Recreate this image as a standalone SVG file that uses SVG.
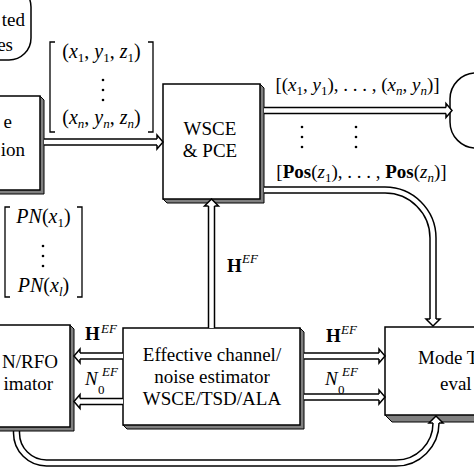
<svg xmlns="http://www.w3.org/2000/svg" width="474" height="474" viewBox="0 0 474 474">
<style>
.t{font-family:"Liberation Serif","DejaVu Serif",serif;font-size:19px;fill:#000}
.m{font-size:20px}
.i{font-style:italic}
.b{font-weight:bold}
.s{font-size:13px}
.box{fill:#fff;stroke:#000;stroke-width:1.5}
.sh{fill:#808080;stroke:#000;stroke-width:1;stroke-linejoin:round}
.co{fill:none;stroke:#000;stroke-width:7.5}
.ci{fill:none;stroke:#fff;stroke-width:4.5}
.hd{fill:#fff;stroke:#000;stroke-width:1.5;stroke-linejoin:miter}
.br{fill:none;stroke:#000;stroke-width:1.3}
</style>
<rect width="474" height="474" fill="#fff"/>

<g id="node-top-left">
<rect x="-60" y="-15" width="91" height="75" rx="22" class="box"/>
<text x="25" y="26" text-anchor="end" class="t">ted</text>
<text x="13" y="51" text-anchor="end" class="t">es</text>
</g>

<g id="node-left-mid">
<path d="M40 96 L44 100 L44 194 L-6 194 L-10 190 Z" class="sh"/>
<rect x="-10" y="96" width="50" height="94" class="box"/>
<text x="12" y="128" text-anchor="end" class="t">e</text>
<text x="25" y="156" text-anchor="end" class="t">ion</text>
</g>

<g id="node-wsce">
<path d="M260 84 L264 88 L264 203 L167 203 L163 199 Z" class="sh"/>
<rect x="163" y="84" width="97" height="115" class="box"/>
<text x="210" y="135" text-anchor="middle" class="t">WSCE</text>
<text x="210" y="157" text-anchor="middle" class="t">&amp; PCE</text>
</g>

<g id="node-right-top">
<rect x="450" y="73" width="80" height="75" rx="26" class="box"/>
</g>

<g id="node-pn-rfo">
<path d="M70 325 L74 329 L74 431 L-6 431 L-10 427 Z" class="sh"/>
<rect x="-10" y="325" width="80" height="102" class="box"/>
<text x="58" y="368" text-anchor="end" class="t">N/RFO</text>
<text x="53" y="390" text-anchor="end" class="t">imator</text>
</g>

<g id="node-effective">
<path d="M300 328 L304 332 L304 429 L127 429 L123 425 Z" class="sh"/>
<rect x="123" y="328" width="177" height="97" class="box"/>
<text x="212" y="361" text-anchor="middle" class="t">Effective channel/</text>
<text x="212" y="383" text-anchor="middle" class="t">noise estimator</text>
<text x="212" y="405" text-anchor="middle" class="t">WSCE/TSD/ALA</text>
</g>

<g id="node-mode">
<path d="M505 327 L512 334 L512 422 L392 422 L385 415 Z" class="sh"/>
<rect x="385" y="327" width="120" height="88" class="box"/>
<text x="418" y="364" class="t">Mode T</text>
<text x="440" y="390" class="t">eval</text>
</g>

<g id="labels">
<path d="M55 42 H50 V132 H55 M148 42 H153 V132 H148" class="br"/>
<text x="101.5" y="58" text-anchor="middle" class="t m">(<tspan class="i">x</tspan><tspan class="s" dy="4">1</tspan><tspan dy="-4">, </tspan><tspan class="i">y</tspan><tspan class="s" dy="4">1</tspan><tspan dy="-4">, </tspan><tspan class="i">z</tspan><tspan class="s" dy="4">1</tspan><tspan dy="-4">)</tspan></text>
<circle cx="103" cy="80" r="1.3"/><circle cx="103" cy="90" r="1.3"/><circle cx="103" cy="100" r="1.3"/>
<text x="101.5" y="124" text-anchor="middle" class="t m">(<tspan class="i">x</tspan><tspan class="s i" dy="4">n</tspan><tspan dy="-4">, </tspan><tspan class="i">y</tspan><tspan class="s i" dy="4">n</tspan><tspan dy="-4">, </tspan><tspan class="i">z</tspan><tspan class="s i" dy="4">n</tspan><tspan dy="-4">)</tspan></text>

<path d="M10 207 H5 V297 H10 M77 207 H82 V297 H77" class="br"/>
<text x="43.5" y="223" text-anchor="middle" class="t m"><tspan class="i">PN</tspan>(<tspan class="i">x</tspan><tspan class="s" dy="4">1</tspan><tspan dy="-4">)</tspan></text>
<circle cx="43" cy="246" r="1.3"/><circle cx="43" cy="256" r="1.3"/><circle cx="43" cy="266" r="1.3"/>
<text x="43.5" y="292" text-anchor="middle" class="t m"><tspan class="i">PN</tspan>(<tspan class="i">x</tspan><tspan class="s i" dy="4">l</tspan><tspan dy="-4">)</tspan></text>

<text x="357.5" y="91" text-anchor="middle" class="t">[(<tspan class="i">x</tspan><tspan class="s" dy="4">1</tspan><tspan dy="-4">, </tspan><tspan class="i">y</tspan><tspan class="s" dy="4">1</tspan><tspan dy="-4">), . . . , (</tspan><tspan class="i">x</tspan><tspan class="s i" dy="4">n</tspan><tspan dy="-4">, </tspan><tspan class="i">y</tspan><tspan class="s i" dy="4">n</tspan><tspan dy="-4">)]</tspan></text>
<circle cx="302" cy="127" r="1.3"/><circle cx="302" cy="137" r="1.3"/><circle cx="302" cy="147" r="1.3"/>
<circle cx="356" cy="127" r="1.3"/><circle cx="356" cy="137" r="1.3"/><circle cx="356" cy="147" r="1.3"/>
<text x="361.5" y="178" text-anchor="middle" class="t">[<tspan class="b">Pos</tspan>(<tspan class="i">z</tspan><tspan class="s" dy="4">1</tspan><tspan dy="-4">), . . . , </tspan><tspan class="b">Pos</tspan>(<tspan class="i">z</tspan><tspan class="s i" dy="4">n</tspan><tspan dy="-4">)]</tspan></text>

<text class="t"><tspan class="b" x="227" y="272">H</tspan><tspan class="s i" x="242" y="263">EF</tspan></text>
<text class="t"><tspan class="b" x="85" y="340">H</tspan><tspan class="s i" x="101" y="333">EF</tspan></text>
<text class="t"><tspan class="i" x="85" y="385">N</tspan><tspan class="s" x="98" y="394">0</tspan><tspan class="s i" x="102" y="376">EF</tspan></text>
<text class="t"><tspan class="b" x="326" y="342">H</tspan><tspan class="s i" x="341" y="334">EF</tspan></text>
<text class="t"><tspan class="i" x="325" y="385">N</tspan><tspan class="s" x="338" y="394">0</tspan><tspan class="s i" x="342" y="376">EF</tspan></text>
</g>

<g id="connectors">
<path d="M44 142 H157" class="co"/><path d="M44 142 H157.5" class="ci"/>
<path d="M157 139 L157 135 L163 142 L157 149 L157 145" class="hd"/>

<path d="M264 110.5 H446" class="co"/><path d="M264 110.5 H446.5" class="ci"/>
<path d="M446 107.5 L446 103.5 L452 110.5 L446 117.5 L446 113.5" class="hd"/>

<path d="M264 190 H385 A48 48 0 0 1 433 238 V319" class="co"/><path d="M264 190 H385 A48 48 0 0 1 433 238 V319.5" class="ci"/>
<path d="M430 319 L426 319 L433 326 L440 319 L436 319" class="hd"/>

<path d="M211.5 328 V206" class="co"/><path d="M211.5 328 V205.5" class="ci"/>
<path d="M208.5 206 L204.5 206 L211.5 199 L218.5 206 L214.5 206" class="hd"/>

<path d="M123 356 H80" class="co"/><path d="M123 356 H79.5" class="ci"/>
<path d="M80 353 L80 349 L74 356 L80 363 L80 359" class="hd"/>
<path d="M123 401.5 H80" class="co"/><path d="M123 401.5 H79.5" class="ci"/>
<path d="M80 398.5 L80 394.5 L74 401.5 L80 408.5 L80 404.5" class="hd"/>

<path d="M304 356 H379" class="co"/><path d="M304 356 H379.5" class="ci"/>
<path d="M379 353 L379 349 L385 356 L379 363 L379 359" class="hd"/>
<path d="M304 397 H379" class="co"/><path d="M304 397 H379.5" class="ci"/>
<path d="M379 394 L379 390 L385 397 L379 404 L379 400" class="hd"/>

<path d="M16.5 431 V433 A30 30 0 0 0 46.5 463 H396 A40 40 0 0 0 436 423" class="co"/><path d="M16.5 431.5 V433 A30 30 0 0 0 46.5 463 H396 A40 40 0 0 0 436 423 V422.5" class="ci"/>
<path d="M433 423 L429 423 L436 416 L443 423 L439 423" class="hd"/>
</g>
</svg>
